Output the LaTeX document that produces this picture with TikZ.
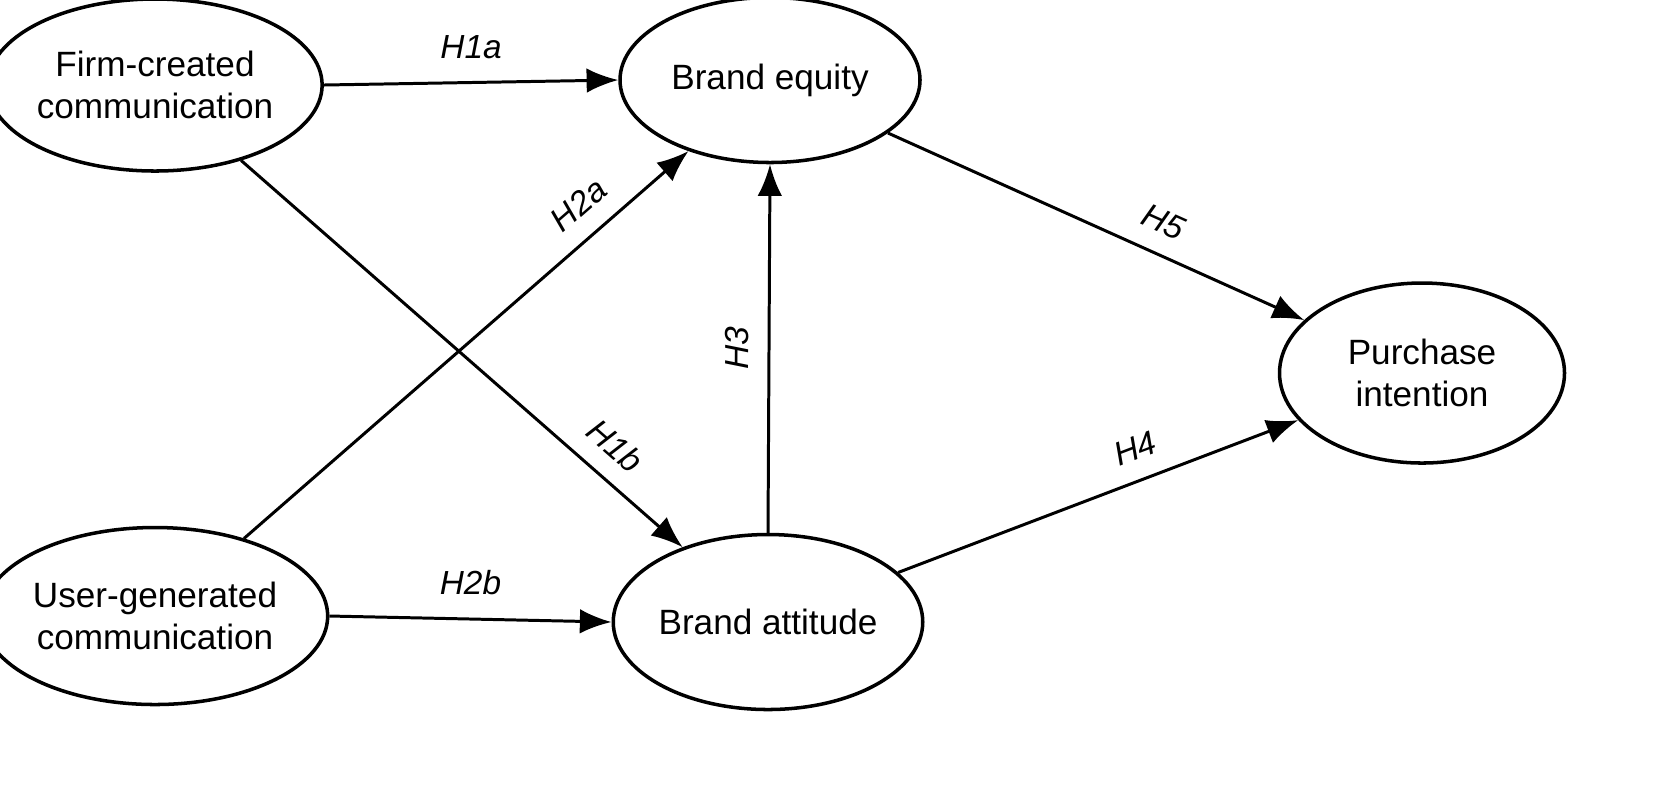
\documentclass[tikz,border=0pt]{standalone}
\usepackage{fontspec}
\setmainfont{Liberation Sans}
\usetikzlibrary{shapes.geometric,arrows.meta}
\begin{document}
\begin{tikzpicture}[x=1cm,y=-1cm,
  ell/.style={draw,ellipse,line width=1pt,minimum width=#1,align=center,font=\fontsize{10}{12}\selectfont,inner sep=0pt},
  ell/.default=2.9cm,
  arr/.style={line width=0.85pt,-{Latex[length=9pt,width=7pt]}},
  lab/.style={font=\itshape\fontsize{9.5}{11}\selectfont}]
\useasboundingbox (0,0) rectangle (16.75,8.10);
\node[ell=2.9cm,minimum height=1.72cm] (F) at (1.55,0.85) {Firm-created\\communication};
\node[ell=3.0cm,minimum height=1.65cm] (E) at (7.7,0.8) {Brand equity};
\node[ell=2.9cm,minimum height=1.77cm] (U) at (1.55,6.16) {User-generated\\communication};
\node[ell=2.88cm,minimum height=1.75cm] (A) at (7.68,6.22) {Brand attitude};
\node[ell=2.85cm,minimum height=1.8cm] (P) at (14.22,3.73) {Purchase\\intention};
\draw[arr] (F.east) -- (E.west) node[lab,midway,above=3pt] {H1a};
\draw[arr] (F) -- (A) node[lab,pos=0.8,sloped,above=2pt] {H1b};
\draw[arr] (U) -- (E) node[lab,pos=0.8,sloped,above=2pt] {H2a};
\draw[arr] (U.east) -- (A.west) node[lab,midway,above=3pt] {H2b};
\draw[arr] (A.north) -- (E.south) node[lab,midway,sloped,above=2pt] {H3};
\draw[arr] (E) -- (P) node[lab,pos=0.63,sloped,above=2pt] {H5};
\draw[arr] (A) -- (P) node[lab,pos=0.62,sloped,above=2pt] {H4};
\end{tikzpicture}
\end{document}
